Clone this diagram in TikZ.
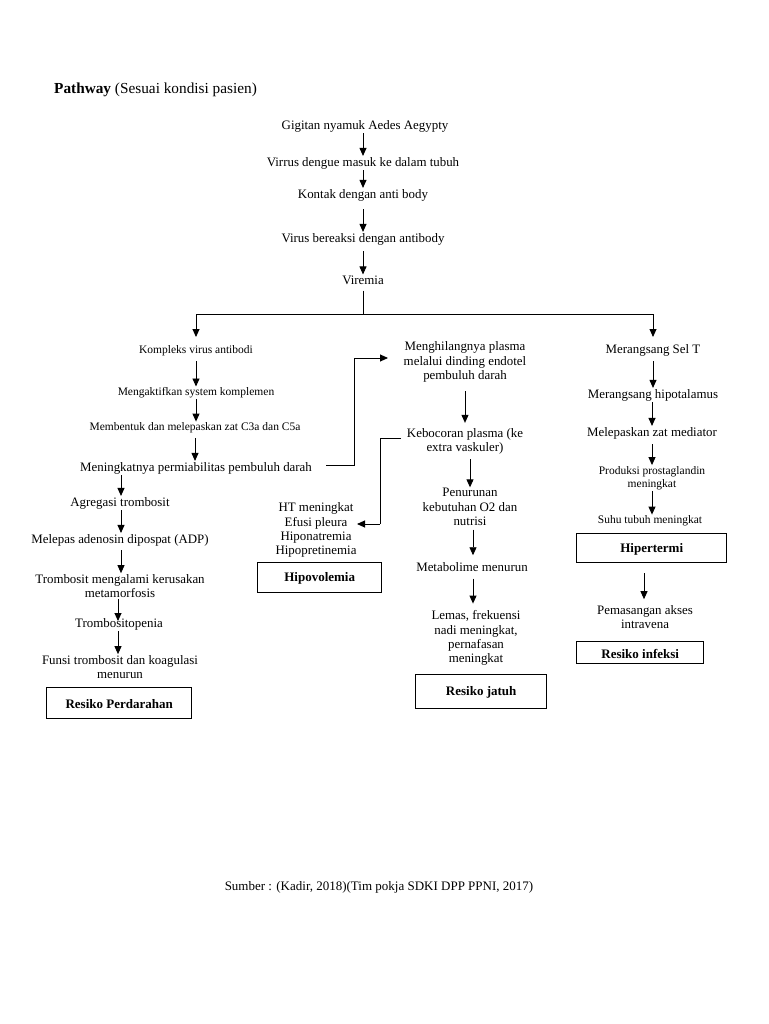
\documentclass[tikz,border=0pt]{standalone}
\usepackage{fontspec}
\setmainfont{Liberation Serif}
\usetikzlibrary{arrows.meta}
\begin{document}
\begin{tikzpicture}[x=1pt,y=-1pt,
  txt/.style={font=\fontsize{12.9}{14.2}\selectfont, align=center, inner sep=1pt, yshift=-3pt},
  sm/.style={font=\fontsize{11.5}{13}\selectfont, align=center, inner sep=1pt, yshift=-3pt},
  boxn/.style={draw, line width=1.4pt, inner sep=0pt, anchor=north west},
  boxt/.style={font=\bfseries\fontsize{13}{14}\selectfont, inner sep=0pt, yshift=-1pt},
  arr/.style={-{Triangle[length=8pt,width=7pt]}, line width=0.9pt},
  ln/.style={line width=0.9pt}]
\useasboundingbox (0,0) rectangle (768,1024);
\fill[white] (0,0) rectangle (768,1024);

\node[anchor=west, font=\fontsize{15.3}{17}\selectfont, inner sep=0] (title) at (54,90) {\textbf{Pathway} (Sesuai kondisi pasien)};

% trunk
\node[txt] (g) at (365,123) {Gigitan nyamuk Aedes Aegypty};
\node[txt] (v) at (363,160) {Virrus dengue masuk ke dalam tubuh};
\node[txt] (k) at (363,192) {Kontak dengan anti body};
\node[txt] (vb) at (363,236) {Virus bereaksi dengan antibody};
\node[txt] (vi) at (363,277) {Viremia};
\draw[arr] (g.south -| 363,0) -- (v.north -| 363,0);
\draw[arr] (v.south -| 363,0) -- (k.north -| 363,0);
\draw[arr, shorten <=7pt] (k.south) -- (vb.north);
\draw[arr, shorten <=5pt] (vb.south) -- (vi.north);
\coordinate (split) at (363,314);
\coordinate (splitL) at (196,314);
\coordinate (splitR) at (653,314);
\draw[ln, shorten <=5pt] (vi.south) -- (split);
\draw[ln] (splitL) -- (splitR);

% left column
\node[sm] (kv) at (196,348) {Kompleks virus antibodi};
\node[sm] (ms) at (196,390) {Mengaktifkan system komplemen};
\node[sm] (mb) at (195,425) {Membentuk dan melepaskan zat C3a dan C5a};
\node[txt] (mp) at (196,465) {Meningkatnya permiabilitas pembuluh darah};
\draw[arr] (splitL) -- (196,337);
\draw[arr, shorten <=4pt] (kv.south) -- (ms.north);
\draw[arr] (ms.south) -- (mb.north -| ms.south);
\draw[arr, shorten <=4pt] (mb.south) -- (mp.north -| mb.south);

\node[txt] (ag) at (120,500) {Agregasi trombosit};
\node[txt] (ad) at (120,537) {Melepas adenosin dipospat (ADP)};
\node[txt] (tk) at (120,583) {Trombosit mengalami kerusakan\\metamorfosis};
\node[txt] (tp) at (119,621) {Trombositopenia};
\node[txt] (fu) at (120,664) {Funsi trombosit dan koagulasi\\menurun};
\node[boxn, minimum width=145pt, minimum height=31pt] (rp) at (46,687) {};
\node[boxt] at (rp.center) {Resiko Perdarahan};
\draw[arr] (mp.south -| 121,0) -- (ag.north -| 121,0);
\draw[arr] (ag.south -| 121,0) -- (ad.north -| 121,0);
\draw[arr, shorten <=3pt] (ad.south -| 121,0) -- (tk.north -| 121,0);
\draw[arr] (tk.south -| 118,0) -- (118,621);
\draw[arr] (tp.south -| 118,0) -- (fu.north -| 118,0);

% middle column
\node[txt] (mh) at (465,359) {Menghilangnya plasma\\melalui dinding endotel\\pembuluh darah};
\node[txt] (kb) at (465,438) {Kebocoran plasma (ke\\extra vaskuler)};
\node[txt] (pn) at (470,504) {Penurunan\\kebutuhan O2 dan\\nutrisi};
\node[txt] (me) at (472,564) {Metabolime menurun};
\node[txt] (le) at (476,635) {Lemas, frekuensi\\nadi meningkat,\\pernafasan\\meningkat};
\node[boxn, minimum width=131pt, minimum height=34pt] (rj) at (415,674) {};
\node[boxt] at (rj.center) {Resiko jatuh};
\draw[ln] (326,465) coordinate (mpe) -- (354,465) -- (354,358) coordinate (mpc);
\draw[arr] (mpc) -- (388,358);
\draw[arr, shorten <=8pt, shorten >=4pt] (mh.south) -- (kb.north);
\draw[arr, shorten <=4pt] (kb.south -| 470,0) -- (pn.north -| 470,0);
\draw[arr, shorten <=3pt, shorten >=6pt] (pn.south -| 473,0) -- (me.north -| 473,0);
\draw[arr, shorten <=6pt, shorten >=6pt] (me.south -| 473,0) -- (le.north -| 473,0);

\node[txt] (ht) at (316,527) {HT meningkat\\Efusi pleura\\Hiponatremia\\Hipopretinemia};
\node[boxn, minimum width=124pt, minimum height=30pt] (hv) at (257,562) {};
\node[boxt] at (hv.center) {Hipovolemia};
\draw[ln] (401,438) -- (380,438) -- (380,524) coordinate (htc);
\draw[arr] (htc) -- (357,524);

% right column
\node[txt] (st) at (653,347) {Merangsang Sel T};
\node[txt] (hp) at (653,392) {Merangsang hipotalamus};
\node[txt] (mz) at (652,430) {Melepaskan zat mediator};
\node[sm] (pg) at (652,475) {Produksi prostaglandin\\meningkat};
\node[sm] (su) at (650,518) {Suhu tubuh meningkat};
\node[boxn, minimum width=150pt, minimum height=29pt] (hi) at (576,533) {};
\node[boxt] at (hi.center) {Hipertermi};
\node[txt] (pa) at (645,614) {Pemasangan akses\\intravena};
\node[boxn, minimum width=127pt, minimum height=22pt] (ri) at (576,641) {};
\node[boxt] at (ri.center) {Resiko infeksi};
\draw[arr] (splitR) -- (653,337);
\draw[arr, shorten <=4pt] (st.south) -- (hp.north);
\draw[arr] (hp.south -| 652,0) -- (mz.north -| 652,0);
\draw[arr, shorten <=4pt] (mz.south -| 652,0) -- (pg.north -| 652,0);
\draw[arr] (pg.south -| 652,0) -- (su.north -| 652,0);
\draw[arr, shorten <=10pt, shorten >=5pt] (hi.south -| 644,0) -- (pa.north -| 644,0);

\node[font=\fontsize{13}{14}\selectfont] (src) at (379,887) {Sumber : (Kadir, 2018)(Tim pokja SDKI DPP PPNI, 2017)};
\end{tikzpicture}
\end{document}
